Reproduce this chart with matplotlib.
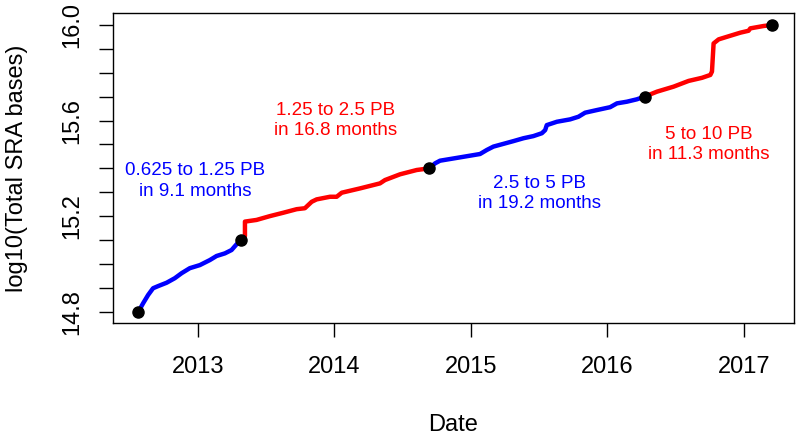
import numpy as np
import matplotlib.pyplot as plt

plt.rcParams['font.family'] = ['Liberation Sans', 'DejaVu Sans']

# growth curve, split into doubling periods (decimal year, log10 bases)
seg1_x = [2012.562, 2012.599, 2012.636, 2012.672, 2012.709, 2012.771, 2012.831,
          2012.881, 2012.941, 2013.015, 2013.088, 2013.137, 2013.198, 2013.247,
          2013.279, 2013.313]
seg1_y = [14.797, 14.835, 14.870, 14.898, 14.907, 14.921, 14.940,
          14.961, 14.982, 14.995, 15.016, 15.033, 15.044, 15.058,
          15.079, 15.100]

seg2_x = [2013.313, 2013.345, 2013.345, 2013.430, 2013.528, 2013.625, 2013.724,
          2013.784, 2013.834, 2013.870, 2013.968, 2014.017, 2014.054, 2014.188,
          2014.334, 2014.371, 2014.481, 2014.603, 2014.696]
seg2_y = [15.100, 15.117, 15.177, 15.184, 15.200, 15.214, 15.229,
          15.233, 15.260, 15.270, 15.281, 15.281, 15.298, 15.316,
          15.337, 15.351, 15.375, 15.393, 15.400]

seg3_x = [2014.696, 2014.738, 2014.774, 2014.921, 2015.067, 2015.117, 2015.165,
          2015.312, 2015.385, 2015.458, 2015.520, 2015.544, 2015.556, 2015.630,
          2015.727, 2015.788, 2015.837, 2015.923, 2016.020, 2016.070, 2016.143,
          2016.216, 2016.272]
seg3_y = [15.400, 15.421, 15.432, 15.446, 15.460, 15.477, 15.491,
          15.514, 15.526, 15.535, 15.547, 15.560, 15.581, 15.595,
          15.605, 15.616, 15.633, 15.644, 15.656, 15.672, 15.679,
          15.689, 15.700]

seg4_x = [2016.272, 2016.363, 2016.485, 2016.595, 2016.693, 2016.754, 2016.766,
          2016.778, 2016.815, 2016.900, 2016.974, 2017.034, 2017.047, 2017.145,
          2017.206]
seg4_y = [15.700, 15.721, 15.742, 15.766, 15.779, 15.791, 15.805,
          15.923, 15.940, 15.955, 15.968, 15.976, 15.986, 15.996,
          16.000]

seg_colors = ['blue', 'red', 'blue', 'red']

# doubling milestones
mile_x = [2012.562, 2013.313, 2014.696, 2016.272, 2017.206]
mile_y = [14.797, 15.100, 15.400, 15.700, 16.000]

labels = ['0.625 to 1.25 PB\nin 9.1 months', '1.25 to 2.5 PB\nin 16.8 months',
          '2.5 to 5 PB\nin 19.2 months', '5 to 10 PB\nin 11.3 months']
label_x = [2012.98, 2014.01, 2015.5, 2016.74]
label_y = [15.347, 15.60, 15.295, 15.50]

fig = plt.figure(figsize=(8, 4.36), dpi=100)
ax = fig.add_axes([0.141, 0.260, 0.851, 0.710])

segs = [(seg1_x, seg1_y), (seg2_x, seg2_y), (seg3_x, seg3_y), (seg4_x, seg4_y)]
for (sx, sy), c in zip(segs, seg_colors):
    ax.plot(sx, sy, color=c, linewidth=3.2, solid_capstyle='round',
            solid_joinstyle='round')
ax.plot(mile_x, mile_y, 'o', color='black', markersize=8, zorder=5)

for t, lx, ly, c in zip(labels, label_x, label_y, seg_colors):
    ax.text(lx, ly, t, color=c, fontsize=13.5, ha='center', va='center',
            linespacing=1.25)

ax.set_xlim(2012.377, 2017.364)
ax.set_ylim(14.754, 16.050)
ax.set_xticks([2013, 2014, 2015, 2016, 2017])
ax.set_xticklabels(['2013', '2014', '2015', '2016', '2017'])
yt = np.round(np.arange(14.8, 16.05, 0.1), 1)
ax.set_yticks(yt)
ax.set_yticklabels(['%.1f' % v if round(v * 10) % 4 == 0 else '' for v in yt],
                   rotation=90, va='center')
ax.tick_params(axis='both', direction='out', length=10, width=1, labelsize=17)
ax.tick_params(axis='x', pad=14)
ax.tick_params(axis='y', pad=11)
for s in ax.spines.values():
    s.set_linewidth(1)
ax.set_xlabel('Date', fontsize=17, labelpad=26)
ax.set_ylabel('log10(Total SRA bases)', fontsize=17, labelpad=24)

fig.savefig('out.png', dpi=100)
